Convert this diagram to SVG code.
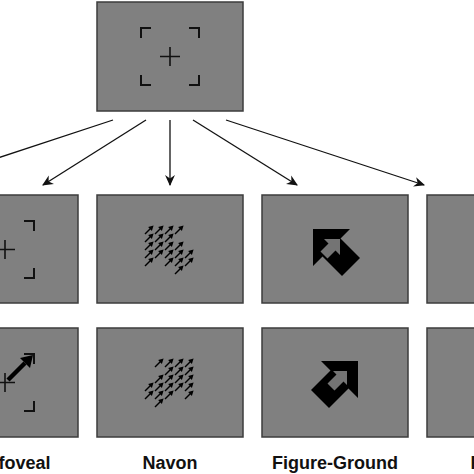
<svg xmlns="http://www.w3.org/2000/svg" width="474" height="474" viewBox="0 0 474 474">
<style>
.bg{fill:#fff}
.box{fill:#808080;stroke:#3c3c3c;stroke-width:1.5}
.fix{fill:none;stroke:#111;stroke-width:1.6}
.br{fill:none;stroke:#111;stroke-width:2}
.conn{stroke:#111;stroke-width:1.3;fill:none}
.blk{fill:#000}
.gnd{fill:#747474}
.lbl{font-family:"Liberation Sans",Arial,sans-serif;font-weight:bold;font-size:18px;fill:#111;text-anchor:middle}
</style>
<defs>
<marker id="ah" markerUnits="userSpaceOnUse" markerWidth="11" markerHeight="11" viewBox="0 0 10 10" refX="9" refY="5" orient="auto">
<path d="M0,0.5 L10,5 L0,9.5 L3,5 z" fill="#111"/>
</marker>
<g id="brk"><path class="br" d="M-29,-18.5 V-28.5 H-19 M19,-28.5 H29 V-18.5 M29,18.5 V28.5 H19 M-19,28.5 H-29 V18.5"/></g>
<g id="plus"><path class="fix" d="M-10,0 H10 M0,-9.5 V9.5"/></g>
<g id="sa"><path d="M-4,4 L1.5,-1.5" stroke="#000" stroke-width="1.5"/><polygon points="4.6,-4.6 -0.9,-2.9 2.9,0.9" fill="#000"/></g>
</defs>
<rect class="bg" x="0" y="0" width="474" height="474"/>

<g id="connectors">
<line class="conn" x1="113" y1="120" x2="-84" y2="185" marker-end="url(#ah)"/>
<line class="conn" x1="146" y1="120" x2="43" y2="185" marker-end="url(#ah)"/>
<line class="conn" x1="170" y1="120" x2="170" y2="185" marker-end="url(#ah)"/>
<line class="conn" x1="193" y1="120" x2="297" y2="185" marker-end="url(#ah)"/>
<line class="conn" x1="226" y1="120" x2="424" y2="185" marker-end="url(#ah)"/>
</g>

<g id="fixation">
<rect class="box" x="97" y="2" width="146" height="109"/>
<use href="#brk" x="170" y="56.5"/>
<use href="#plus" x="170" y="56.5"/>
</g>

<g id="parafoveal">
<rect class="box" x="-68" y="195" width="146" height="108"/>
<use href="#brk" x="5" y="249.5"/>
<use href="#plus" x="5" y="249.5"/>
<rect class="box" x="-68" y="328" width="146" height="109"/>
<use href="#brk" x="5" y="382.5"/>
<use href="#plus" x="5" y="382.5"/>
<line x1="8" y1="380" x2="25" y2="363" stroke="#000" stroke-width="4.5"/>
<polygon class="blk" points="33,355 20,358 30,368"/>
<text class="lbl" x="5" y="469">Parafoveal</text>
</g>

<g id="navon">
<rect class="box" x="97" y="195" width="146" height="108"/>
<use href="#sa" x="149" y="230"/><use href="#sa" x="159" y="230"/><use href="#sa" x="169" y="230"/><use href="#sa" x="179" y="230"/>
<use href="#sa" x="149" y="238"/><use href="#sa" x="159" y="238"/><use href="#sa" x="169" y="238"/>
<use href="#sa" x="149" y="246"/><use href="#sa" x="159" y="246"/><use href="#sa" x="169" y="246"/><use href="#sa" x="179" y="246"/>
<use href="#sa" x="149" y="254"/><use href="#sa" x="159" y="254"/><use href="#sa" x="169" y="254"/><use href="#sa" x="179" y="254"/><use href="#sa" x="189" y="254"/>
<use href="#sa" x="149" y="262"/><use href="#sa" x="169" y="262"/><use href="#sa" x="179" y="262"/><use href="#sa" x="189" y="262"/>
<use href="#sa" x="179" y="270"/>
<rect class="box" x="97" y="328" width="146" height="109"/>
<use href="#sa" x="159" y="363"/><use href="#sa" x="169" y="363"/><use href="#sa" x="179" y="363"/><use href="#sa" x="189" y="363"/>
<use href="#sa" x="169" y="371"/><use href="#sa" x="179" y="371"/><use href="#sa" x="189" y="371"/>
<use href="#sa" x="159" y="379"/><use href="#sa" x="169" y="379"/><use href="#sa" x="179" y="379"/><use href="#sa" x="189" y="379"/>
<use href="#sa" x="149" y="387"/><use href="#sa" x="159" y="387"/><use href="#sa" x="169" y="387"/><use href="#sa" x="179" y="387"/><use href="#sa" x="189" y="387"/>
<use href="#sa" x="149" y="395"/><use href="#sa" x="159" y="395"/><use href="#sa" x="169" y="395"/><use href="#sa" x="189" y="395"/>
<use href="#sa" x="159" y="403"/>
<text class="lbl" x="170" y="469">Navon</text>
</g>

<g id="figure-ground">
<rect class="box" x="262" y="195" width="146" height="108"/>
<polygon class="blk" points="313,229 350,229 340.5,238.5 360,258 342,276 322.5,256.5 313,266"/>
<polygon class="gnd" points="340,239 324,239 328.5,243.5 320.5,251.5 327.5,258.5 335.5,250.5 340,255"/>
<rect class="box" x="262" y="328" width="146" height="109"/>
<polygon class="blk" points="358,361 321,361 330.5,370.5 311,390 329,408 348.5,388.5 358,398"/>
<polygon class="gnd" points="347,371 333,371 336.5,374.5 327.5,383.5 334.5,390.5 343.5,381.5 347,385"/>
<text class="lbl" x="335" y="469">Figure-Ground</text>
</g>

<g id="foveal">
<rect class="box" x="427" y="195" width="146" height="108"/>
<rect class="box" x="427" y="328" width="146" height="109"/>
<text class="lbl" x="499" y="469">Foveal</text>
</g>
</svg>
